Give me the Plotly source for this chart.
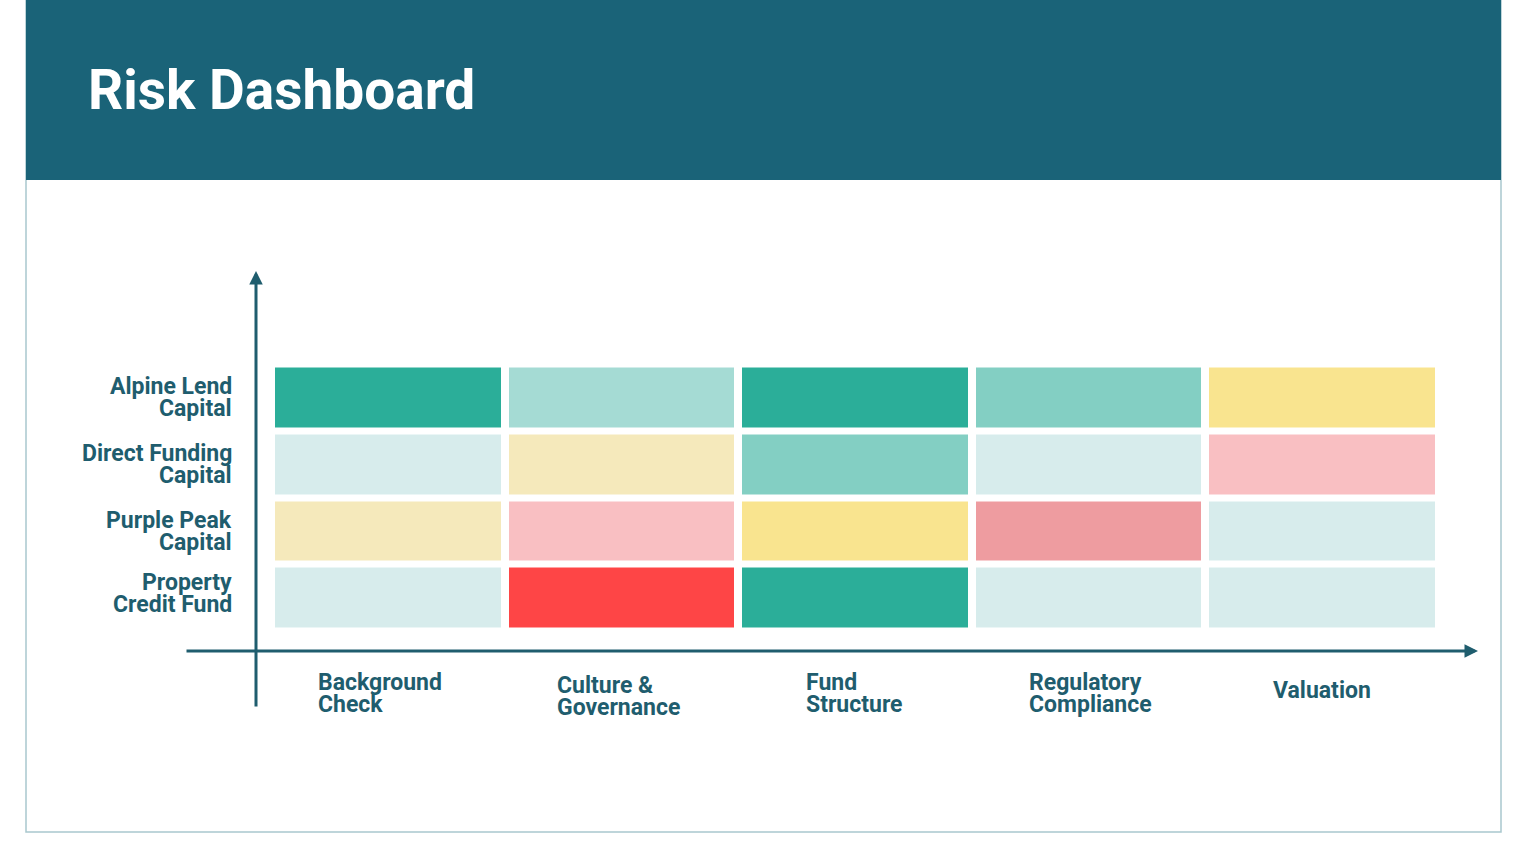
import plotly.graph_objects as go

# ---------------- data ----------------
funds = ["Alpine Lend Capital", "Direct Funding Capital", "Purple Peak Capital", "Property Credit Fund"]
fund_lines = [["Alpine Lend", "Capital"], ["Direct Funding", "Capital"], ["Purple Peak", "Capital"], ["Property", "Credit Fund"]]
criteria = ["Background Check", "Culture & Governance", "Fund Structure", "Regulatory Compliance", "Valuation"]
criteria_lines = [["Background", "Check"], ["Culture &", "Governance"], ["Fund", "Structure"], ["Regulatory", "Compliance"], ["Valuation"]]

# rating level per cell (0 = not rated, 1 = best ... 8 = worst)
alpine = [1, 3, 1, 2, 5]
direct = [0, 4, 2, 0, 6]
purple = [4, 6, 5, 7, 0]
property_ = [0, 8, 1, 0, 0]
z = [alpine, direct, purple, property_]

level_colors = ["#d7ecec", "#2bae99", "#83cfc3", "#a5dbd4", "#f5e9bb",
                "#f9e48f", "#f9bfc2", "#ee9ca0", "#fe4546"]

# ---------------- styling ----------------
W, H = 1536, 864
HEADER = "#1a6378"
INK = "#1f5d6e"
FONT = "Roboto"

n = len(level_colors)
colorscale = []
for i, c in enumerate(level_colors):
    colorscale.append([i / n, c])
    colorscale.append([(i + 1) / n, c])

def px_x(p):
    return p / W

def px_y(p):
    return 1 - p / H

fig = go.Figure()
fig.add_trace(go.Heatmap(
    z=z, x=criteria, y=funds,
    colorscale=colorscale, zmin=-0.5, zmax=n - 0.5,
    showscale=False, xgap=8, ygap=7, hoverinfo="skip",
))

shapes = [
    dict(type="rect", xref="paper", yref="paper", x0=px_x(26), x1=px_x(1501),
         y0=px_y(832), y1=px_y(0), line=dict(color="#a9c8ce", width=1.5), fillcolor="rgba(0,0,0,0)", layer="below"),
    dict(type="rect", xref="paper", yref="paper", x0=px_x(26), x1=px_x(1501),
         y0=px_y(180), y1=px_y(0), line=dict(width=0), fillcolor=HEADER, layer="below"),
]

annotations = [
    dict(text="Risk Dashboard", xref="paper", yref="paper", x=px_x(86), y=px_y(90),
         xanchor="left", yanchor="middle", showarrow=False,
         font=dict(family=FONT, size=55, color="white", weight=700)),
    # y axis arrow
    dict(text="", xref="paper", yref="paper", x=px_x(256), y=px_y(271),
         ax=0, ay=437, showarrow=True, arrowhead=2, arrowsize=0.9, arrowwidth=3, arrowcolor=INK),
    # x axis arrow
    dict(text="", xref="paper", yref="paper", x=px_x(1478), y=px_y(651),
         ax=-1293, ay=0, showarrow=True, arrowhead=2, arrowsize=0.9, arrowwidth=3, arrowcolor=INK),
]

label_font = dict(family=FONT, size=23, color=INK, weight=700)
LINE = 11

y_label_offset = [0, 0, 0, 5]
for name, lines, off in zip(funds, fund_lines, y_label_offset):
    for k, ln in enumerate(lines):
        annotations.append(dict(text=ln, xref="paper", yref="y", x=px_x(234), y=name,
                                xanchor="right", yanchor="middle", showarrow=False,
                                yshift=(LINE if k == 0 else -LINE) + off, font=label_font))

x_left_shift = [-72, -66, -51, -62, 0]
x_center_px = [693, 696, 693, 693, 690]
for name, lines, sh, cy in zip(criteria, criteria_lines, x_left_shift, x_center_px):
    if len(lines) == 1:
        annotations.append(dict(text=lines[0], xref="x", yref="paper", x=name, y=px_y(cy),
                                xanchor="center", yanchor="middle", showarrow=False, font=label_font))
    else:
        for k, ln in enumerate(lines):
            annotations.append(dict(text=ln, xref="x", yref="paper", x=name, y=px_y(cy),
                                    xanchor="left", yanchor="middle", showarrow=False,
                                    xshift=sh, yshift=LINE if k == 0 else -LINE, font=label_font))

fig.update_layout(
    width=W, height=H,
    margin=dict(l=0, r=0, t=0, b=0),
    paper_bgcolor="white", plot_bgcolor="white",
    shapes=shapes, annotations=annotations,
    font=dict(family=FONT),
    xaxis=dict(domain=[px_x(271), px_x(1439)], showgrid=False, zeroline=False,
               showticklabels=False, ticks="", fixedrange=True),
    yaxis=dict(domain=[px_y(631.5), px_y(364.5)], showgrid=False, zeroline=False,
               showticklabels=False, ticks="", autorange="reversed", fixedrange=True),
)

fig.write_html("out.html", config={"displayModeBar": False},
               post_script="document.body.style.margin='0';document.body.style.overflow='hidden';")
